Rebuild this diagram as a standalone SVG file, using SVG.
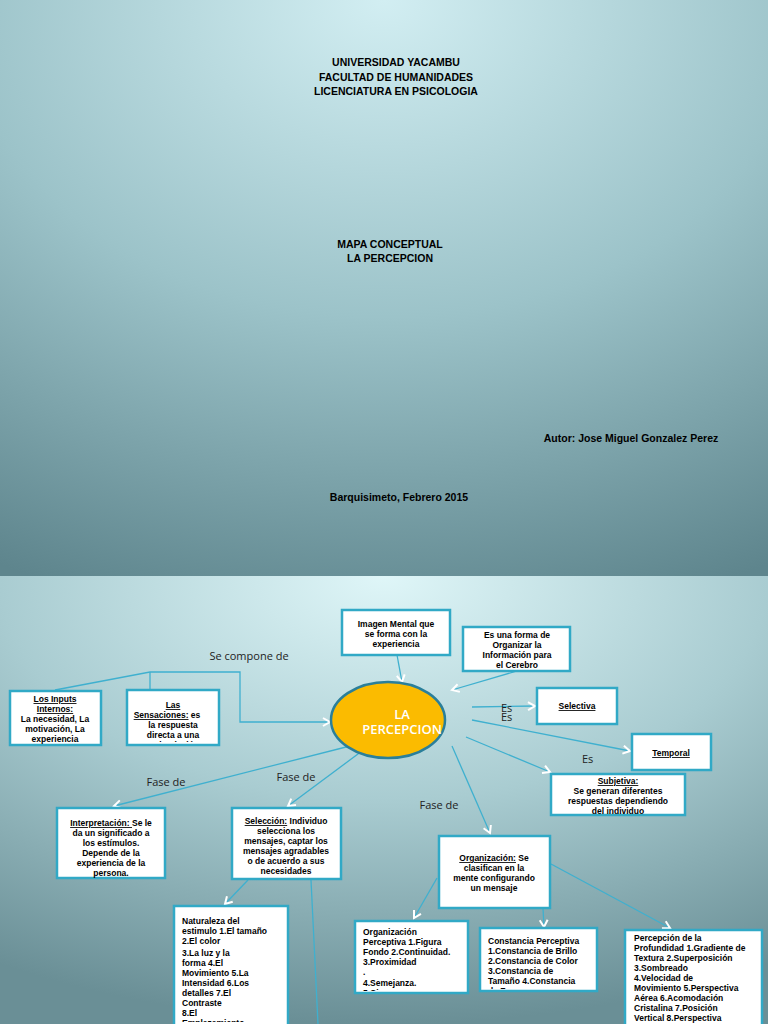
<svg xmlns="http://www.w3.org/2000/svg" width="768" height="1024" viewBox="0 0 768 1024">
<defs>
<radialGradient id="bg1" cx="0.5" cy="0" r="1.1">
<stop offset="0" stop-color="#d2eef2"/><stop offset="0.5" stop-color="#9cc3c9"/><stop offset="1" stop-color="#5e858d"/>
</radialGradient>
<radialGradient id="bg2" cx="0.5" cy="0" r="1.0">
<stop offset="0" stop-color="#dff6f8"/><stop offset="0.5" stop-color="#a9ccd1"/><stop offset="1" stop-color="#6a8f96"/>
</radialGradient>
<marker id="ar" markerWidth="10" markerHeight="10" refX="8" refY="5" orient="auto" markerUnits="userSpaceOnUse">
<path d="M1,1 L8,5 L1,9" fill="none" stroke="#fff" stroke-width="2"/>
</marker>
<clipPath id="c1"><rect x="127" y="690" width="92" height="52"/></clipPath>
<clipPath id="c2"><rect x="355" y="921" width="113" height="70"/></clipPath>
<clipPath id="c3"><rect x="480" y="928" width="117" height="61"/></clipPath>
<clipPath id="c4"><rect x="174" y="906" width="114" height="116"/></clipPath>
<clipPath id="c5"><rect x="625" y="930" width="137" height="94"/></clipPath>
</defs>
<style>
.t{font-family:"Liberation Sans",Arial,sans-serif;font-weight:bold;fill:#000}
.s{font-size:8.5px}
.box{fill:#fff;stroke:#31a9c6;stroke-width:2.5}
.lab{font-family:"Open Sans","Noto Sans",sans-serif;font-size:11px;fill:#222}
.c{fill:none;stroke:#3fb0cf;stroke-width:1.3}
</style>
<rect x="0" y="0" width="768" height="576" fill="url(#bg1)"/>
<rect x="0" y="576" width="768" height="448" fill="url(#bg2)"/>
<g id="slide1" class="t" font-size="10.5" text-anchor="middle">
<text x="396" y="66">UNIVERSIDAD YACAMBU</text>
<text x="396" y="81">FACULTAD DE HUMANIDADES</text>
<text x="396" y="95">LICENCIATURA EN PSICOLOGIA</text>
<text x="390" y="248">MAPA CONCEPTUAL</text>
<text x="390" y="262">LA PERCEPCION</text>
<text x="631" y="442">Autor: Jose Miguel Gonzalez Perez</text>
<text x="399" y="501">Barquisimeto, Febrero 2015</text>
</g>
<g id="connectors">
<polyline class="c" points="55,690 150,672 240,672 240,722 330,722" marker-end="url(#ar)"/>
<line class="c" x1="150" y1="672" x2="150" y2="690"/>
<line class="c" x1="397" y1="655" x2="402" y2="682" marker-end="url(#ar)"/>
<line class="c" x1="517" y1="671" x2="452" y2="690" marker-end="url(#ar)"/>
<line class="c" x1="472" y1="707" x2="535" y2="706" marker-end="url(#ar)"/>
<line class="c" x1="472" y1="720" x2="630" y2="751" marker-end="url(#ar)"/>
<line class="c" x1="466" y1="737" x2="550" y2="772" marker-end="url(#ar)"/>
<line class="c" x1="452" y1="746" x2="490" y2="833" marker-end="url(#ar)"/>
<line class="c" x1="350" y1="746" x2="114" y2="806" marker-end="url(#ar)"/>
<line class="c" x1="362" y1="751" x2="288" y2="806" marker-end="url(#ar)"/>
<line class="c" x1="248" y1="880" x2="225" y2="904" marker-end="url(#ar)"/>
<line class="c" x1="311" y1="880" x2="318" y2="1024"/>
<line class="c" x1="437" y1="878" x2="414" y2="918" marker-end="url(#ar)"/>
<line class="c" x1="543" y1="908" x2="544" y2="927" marker-end="url(#ar)"/>
<line class="c" x1="551" y1="864" x2="670" y2="928" marker-end="url(#ar)"/>
<text class="lab" x="249" y="660" text-anchor="middle">Se compone de</text>
<text class="lab" x="166" y="786" text-anchor="middle">Fase de</text>
<text class="lab" x="296" y="781" text-anchor="middle">Fase de</text>
<text class="lab" x="439" y="809" text-anchor="middle">Fase de</text>
<text class="lab" x="501" y="712">Es</text>
<text class="lab" x="501" y="721">Es</text>
<text class="lab" x="582" y="763">Es</text>
</g>
<g id="n-percepcion">
<ellipse cx="388" cy="720" rx="57" ry="38" fill="#fbbb00" stroke="#2a7f9a" stroke-width="2.5"/>
<text x="402" y="719" text-anchor="middle" font-family="Open Sans,sans-serif" font-size="13" font-weight="600" fill="#fff">LA</text>
<text x="402" y="734" text-anchor="middle" font-family="Open Sans,sans-serif" font-size="13" font-weight="600" fill="#fff">PERCEPCION</text>
</g>
<g id="n-inputs"><rect class="box" x="10" y="691" width="91" height="54"/>
<text class="t s" text-anchor="middle"><tspan x="55" y="702" text-decoration="underline">Los Inputs</tspan><tspan x="55" y="712" text-decoration="underline">Internos:</tspan><tspan x="55" y="722">La necesidad, La</tspan><tspan x="55" y="732">motivación, La</tspan><tspan x="55" y="742">experiencia</tspan></text></g>
<g id="n-sensaciones"><rect class="box" x="127" y="690" width="92" height="55" stroke-width="3.5"/>
<text class="t s" text-anchor="middle" clip-path="url(#c1)"><tspan x="173" y="708" text-decoration="underline">Las</tspan><tspan x="167" y="718"><tspan text-decoration="underline">Sensaciones:</tspan> es</tspan><tspan x="173" y="728">la respuesta</tspan><tspan x="173" y="738">directa a una</tspan><tspan x="173" y="748">estimulación</tspan></text></g>
<g id="n-imagen"><rect class="box" x="342" y="610" width="108" height="45"/>
<text class="t s" text-anchor="middle"><tspan x="396" y="627">Imagen Mental que</tspan><tspan x="396" y="637">se forma con la</tspan><tspan x="396" y="647">experiencia</tspan></text></g>
<g id="n-organizar"><rect class="box" x="463" y="627" width="107" height="44"/>
<text class="t s" text-anchor="middle"><tspan x="517" y="638">Es una forma de</tspan><tspan x="517" y="648">Organizar la</tspan><tspan x="517" y="658">Información para</tspan><tspan x="517" y="668">el Cerebro</tspan></text></g>
<g id="n-selectiva"><rect class="box" x="537" y="688" width="80" height="36"/>
<text class="t s" x="577" y="709" text-anchor="middle" text-decoration="underline">Selectiva</text></g>
<g id="n-temporal"><rect class="box" x="632" y="734" width="79" height="36"/>
<text class="t s" x="671" y="756" text-anchor="middle" text-decoration="underline">Temporal</text></g>
<g id="n-subjetiva"><rect class="box" x="551" y="774" width="134" height="41"/>
<text class="t s" text-anchor="middle"><tspan x="618" y="784" text-decoration="underline">Subjetiva:</tspan><tspan x="618" y="794">Se generan diferentes</tspan><tspan x="618" y="804">respuestas dependiendo</tspan><tspan x="618" y="814">del individuo</tspan></text></g>
<g id="n-interpretacion"><rect class="box" x="57" y="808" width="108" height="70"/>
<text class="t s" text-anchor="middle"><tspan x="111" y="826"><tspan text-decoration="underline">Interpretación: </tspan> Se le</tspan><tspan x="111" y="836">da un significado a</tspan><tspan x="111" y="846">los estímulos.</tspan><tspan x="111" y="856">Depende de la</tspan><tspan x="111" y="866">experiencia de la</tspan><tspan x="111" y="876">persona.</tspan></text></g>
<g id="n-seleccion"><rect class="box" x="232" y="808" width="109" height="71"/>
<text class="t s" text-anchor="middle"><tspan x="286" y="824"><tspan text-decoration="underline">Selección:</tspan> Individuo</tspan><tspan x="286" y="834">selecciona los</tspan><tspan x="286" y="844">mensajes, captar los</tspan><tspan x="286" y="854">mensajes agradables</tspan><tspan x="286" y="864">o de acuerdo a sus</tspan><tspan x="286" y="874">necesidades</tspan></text></g>
<g id="n-organizacion"><rect class="box" x="439" y="836" width="111" height="72"/>
<text class="t s" text-anchor="middle"><tspan x="494" y="861"><tspan text-decoration="underline">Organización:</tspan> Se</tspan><tspan x="494" y="871">clasifican en la</tspan><tspan x="494" y="881">mente configurando</tspan><tspan x="494" y="891">un mensaje</tspan></text></g>
<g id="n-naturaleza"><rect class="box" x="174" y="906" width="114" height="130"/>
<text class="t s" clip-path="url(#c4)"><tspan x="182" y="924">Naturaleza del</tspan><tspan x="182" y="934">estimulo 1.El tamaño</tspan><tspan x="182" y="944">2.El color</tspan><tspan x="182" y="956">3.La luz y la</tspan><tspan x="182" y="966">forma 4.El</tspan><tspan x="182" y="976">Movimiento 5.La</tspan><tspan x="182" y="986">Intensidad 6.Los</tspan><tspan x="182" y="996">detalles 7.El</tspan><tspan x="182" y="1006">Contraste</tspan><tspan x="182" y="1016">8.El</tspan><tspan x="182" y="1026">Emplazamiento</tspan></text></g>
<g id="n-orgperceptiva"><rect class="box" x="355" y="921" width="113" height="72"/>
<text class="t s" clip-path="url(#c2)"><tspan x="363" y="935">Organización</tspan><tspan x="363" y="945">Perceptiva 1.Figura</tspan><tspan x="363" y="955">Fondo 2.Continuidad.</tspan><tspan x="363" y="965">3.Proximidad</tspan><tspan x="363" y="975">.</tspan><tspan x="363" y="986">4.Semejanza.</tspan><tspan x="363" y="996">5.Cierre</tspan></text></g>
<g id="n-constancia"><rect class="box" x="480" y="928" width="117" height="63"/>
<text class="t s" clip-path="url(#c3)"><tspan x="488" y="944">Constancia Perceptiva</tspan><tspan x="488" y="954">1.Constancia de Brillo</tspan><tspan x="488" y="964">2.Constancia de Color</tspan><tspan x="488" y="974">3.Constancia de</tspan><tspan x="488" y="984">Tamaño 4.Constancia</tspan><tspan x="488" y="994">de Forma</tspan></text></g>
<g id="n-profundidad"><rect class="box" x="625" y="930" width="137" height="110"/>
<text class="t s" clip-path="url(#c5)"><tspan x="634" y="941">Percepción de la</tspan><tspan x="634" y="951">Profundidad 1.Gradiente de</tspan><tspan x="634" y="961">Textura 2.Superposición</tspan><tspan x="634" y="971">3.Sombreado</tspan><tspan x="634" y="981">4.Velocidad de</tspan><tspan x="634" y="991">Movimiento 5.Perspectiva</tspan><tspan x="634" y="1001">Aérea 6.Acomodación</tspan><tspan x="634" y="1011">Cristalina 7.Posición</tspan><tspan x="634" y="1021">Vertical 8.Perspectiva</tspan></text></g>
</svg>
